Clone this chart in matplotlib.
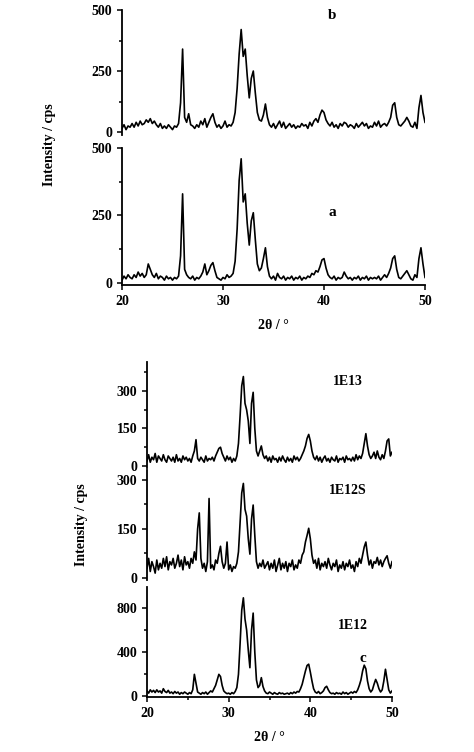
import numpy as np
import matplotlib
matplotlib.use("Agg")
import matplotlib.pyplot as plt

# 2theta grid 20..50 step 0.2 (151 points)
b_vals = [15,30,10,25,20,35, 20,40,25,45,30, 35,50,40,55,35, 45,30,20,35,15, 25,15,30,20,10,
          25,20,35, 120,340,60, 40,75,30, 25,15,30,20,45, 30,55,20,40,60, 75,40,20,30,15,
          25,45,20,30,25,
          40,80,180,320,420,310,340,230,140,220,250,160,80,50,45,70,115,60,30,
          20,35,15,30,45,20, 40,15,25,35,20,30, 15,25,20,35,25, 30,15,40,25,45,
          55,40,70,90,80,50,35, 25,40,20,30,15,35, 25,40,35,20,30,25, 15,35,20,30,40,25,
          35,15,25,20,40, 25,45,20,30,35, 25,40,60,110,120,60,30, 25,35,45,60,45,25,
          20,40,15,100,150,80,40]
a_vals = [10,25,15,30,20,15, 30,20,40,25,35, 20,30,70,50,30, 20,35,15,25,20, 10,25,15,20,10,
          20,15,25, 100,330,50, 30,20,15, 25,10,20,15,25, 40,70,30,45,65, 75,45,20,15,10,
          20,15,30,20,25,
          35,80,200,380,460,300,330,220,140,230,260,160,70,45,55,90,130,60,25,
          15,25,10,35,20,15, 25,10,20,15,25,10, 20,15,25,10,20, 15,25,20,35,30,
          45,40,60,85,90,55,30, 20,15,25,10,20,15, 20,40,25,15,20,10, 20,15,25,10,20,15,
          25,10,20,15,20, 15,25,10,20,30, 20,35,55,90,100,50,20, 15,25,35,45,30,15,
          10,30,20,90,130,70,20]
e13_vals = [20,45,15,35,25,50, 15,40,30,20,45, 25,15,40,30,20, 35,15,45,20,30, 15,40,25,35,20,
            30,15,40, 60,105,30, 20,35,25, 15,40,20,30,25, 35,20,40,55,70, 75,50,35,20,40,
            25,35,15,30,20,
            40,90,200,320,357,250,224,180,90,250,294,150,60,40,60,80,45,30,40,
            20,35,15,40,25,30, 15,35,20,40,25,15, 35,20,30,15,40, 25,35,20,30,45,
            60,80,110,126,100,60,35, 25,40,20,35,15,30, 40,20,30,15,35,25, 20,40,15,30,25,35,
            15,40,25,30,20, 35,20,45,25,40, 30,50,90,129,80,45,30, 40,55,30,60,35,25,
            45,30,60,100,108,40,55]
e12s_vals = [30,60,20,50,35,15, 55,25,45,30,60, 35,65,25,50,40, 60,30,45,70,35, 55,25,65,40,50,
             30,60,45, 80,55,150, 199,60,30, 45,20,50,243,30, 40,25,55,45,75, 97,50,30,45,110,
             25,40,20,35,30,
             45,80,170,260,289,210,189,120,73,180,223,130,50,30,45,35,55,30,40,
             50,25,45,30,55,20, 40,60,25,45,30,50, 20,45,35,55,25, 40,30,55,45,70,
             80,110,130,152,120,70,45, 55,30,60,25,45,35, 50,30,60,40,25,45, 35,55,20,40,30,50,
             25,45,35,55,30, 40,20,50,35,60, 45,70,95,110,70,40,55, 30,50,45,63,40,55,
             35,50,60,68,45,30,50]
e12_vals = [50,30,60,40,55,35, 60,40,50,30,70, 45,35,55,30,40, 25,45,30,40,20, 35,25,40,30,20,
            35,25,60, 200,120,40, 30,20,35, 25,40,20,35,50, 40,70,100,150,200, 180,100,50,35,25,
            30,20,35,25,45,
            80,200,480,780,892,700,600,420,260,600,754,400,150,80,100,170,90,50,30,
            25,40,30,20,35,25, 20,35,25,30,20,25, 30,20,35,25,40, 30,45,40,70,110,
            170,230,280,292,220,140,70, 40,30,45,25,35,50, 80,92,60,35,25,30, 20,35,25,30,20,40,
            25,35,20,30,40, 30,45,35,60,100, 150,230,283,250,140,70,40, 60,110,154,120,70,40,
            60,140,246,150,60,30,50]

x_ticks = [20, 30, 40, 50]

FONT = "Liberation Serif"
W, H = 474, 752
fig = plt.figure(figsize=(W/100, H/100), dpi=100)

def ax_px(l, t, r, b):
    return fig.add_axes([l/W, 1-b/H, (r-l)/W, (b-t)/H])

def style(ax, bottom):
    for s in ["top", "right"]:
        ax.spines[s].set_visible(False)
    ax.spines["left"].set_linewidth(1.3)
    ax.spines["bottom"].set_linewidth(1.3)
    if not bottom:
        ax.spines["bottom"].set_visible(False)
        ax.tick_params(axis="x", bottom=False, labelbottom=False)
    ax.tick_params(which="both", direction="out", width=1.1, labelsize=10)
    for lab in ax.get_xticklabels() + ax.get_yticklabels():
        lab.set_fontfamily(FONT); lab.set_fontweight("bold")

def plot(ax, vals, ylim, yt, ymin, bottom, minor_x=False):
    x = np.linspace(20, 50, len(vals))
    ax.plot(x, vals, color="black", lw=1.2)
    ax.set_xlim(20, 50)
    ax.set_ylim(*ylim)
    ax.set_yticks(yt)
    ax.set_yticks(ymin, minor=True)
    ax.set_xticks(x_ticks)
    if minor_x:
        ax.set_xticks([25, 35, 45], minor=True)
    style(ax, bottom)

# top figure
axb = ax_px(122, 10, 425, 135)
plot(axb, b_vals, (-12, 500), [0, 250, 500], [125, 375], False)
axa = ax_px(122, 148, 425, 285)
plot(axa, a_vals, (-8, 500), [0, 250, 500], [125, 375], True)
axb.text(0.68, 0.93, "b", transform=axb.transAxes, fontfamily=FONT, fontweight="bold", fontsize=11)
axa.text(0.68, 0.5, "a", transform=axa.transAxes, fontfamily=FONT, fontweight="bold", fontsize=11)
axa.set_xlabel("2θ / °", fontfamily=FONT, fontweight="bold", fontsize=10, labelpad=8)
fig.text(50/W, 1-145/H, "Intensity / cps", rotation=90, ha="center", va="center",
         fontfamily=FONT, fontweight="bold", fontsize=10)

# bottom figure
ax1 = ax_px(147, 362, 392, 468)
plot(ax1, e13_vals, (-8, 415), [0, 150, 300], [75, 225, 375], False)
ax2 = ax_px(147, 470, 392, 580)
plot(ax2, e12s_vals, (-6, 330), [0, 150, 300], [75, 225], False)
ax3 = ax_px(147, 587, 392, 697)
plot(ax3, e12_vals, (-5, 990), [0, 400, 800], [200, 600], True, minor_x=True)
ax1.text(0.82, 0.78, "1E13", transform=ax1.transAxes, fontfamily=FONT, fontweight="bold", fontsize=10, ha="center")
ax2.text(0.82, 0.78, "1E12S", transform=ax2.transAxes, fontfamily=FONT, fontweight="bold", fontsize=10, ha="center")
ax3.text(0.84, 0.62, "1E12", transform=ax3.transAxes, fontfamily=FONT, fontweight="bold", fontsize=10, ha="center")
ax3.text(0.88, 0.32, "c", transform=ax3.transAxes, fontfamily=FONT, fontweight="bold", fontsize=11, ha="center")
ax3.set_xlabel("2θ / °", fontfamily=FONT, fontweight="bold", fontsize=10, labelpad=8)
fig.text(82/W, 1-525/H, "Intensity / cps", rotation=90, ha="center", va="center",
         fontfamily=FONT, fontweight="bold", fontsize=10)

fig.savefig("out.png", dpi=100)
